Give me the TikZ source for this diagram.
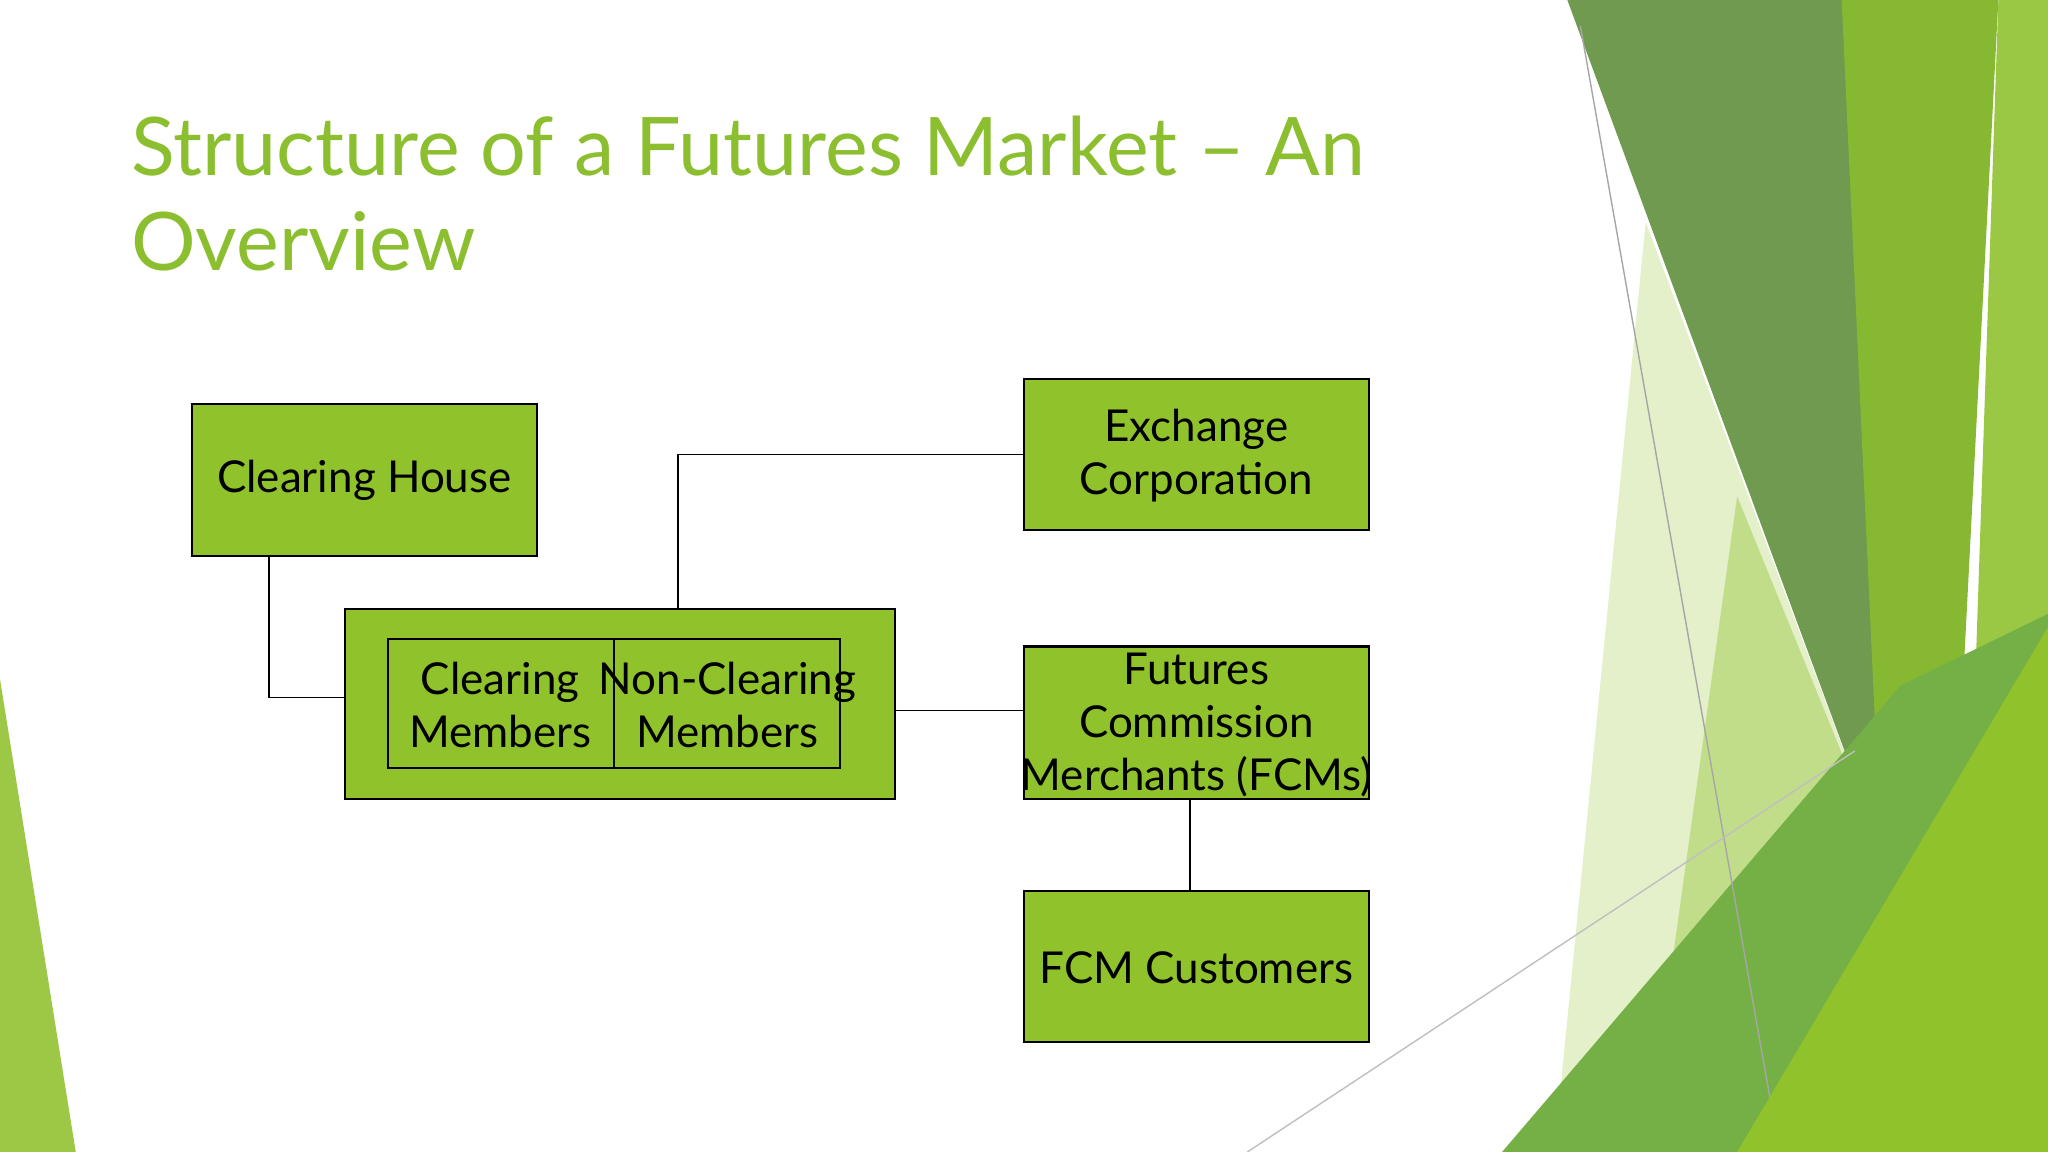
\documentclass[tikz,border=0pt]{standalone}
\usepackage{fontspec}
\setmainfont{Lato}
\definecolor{boxg}{HTML}{8FC22B}
\definecolor{titleg}{HTML}{8CBF30}
\definecolor{bgA}{HTML}{6F9A4F}
\definecolor{bgB}{HTML}{86B832}
\definecolor{bgC}{HTML}{9AC844}
\definecolor{bgD}{HTML}{74B045}
\definecolor{bgE}{HTML}{9CC845}
\begin{document}
\begin{tikzpicture}[x=0.013061cm,y=-0.013061cm,
  gbox/.style={draw=black,line width=0.6pt,fill=boxg},
  lbl/.style={align=center,font=\fontsize{12.5}{15}\selectfont,inner sep=0pt},
  conn/.style={draw=black,line width=0.5pt}]
\useasboundingbox (0,0) rectangle (1568,882);
\fill[white] (0,0) rectangle (1568,882);
% background shapes
\fill[boxg!25] (1260,170) -- (1440,650) -- (1380,882) -- (1190,882) -- cycle;
\fill[boxg!55] (1330,380) -- (1440,650) -- (1380,882) -- (1260,882) -- cycle;
\fill[bgA] (1200,0) -- (1420,0) -- (1440,650) -- cycle;
\fill[bgB] (1410,0) -- (1530,0) -- (1500,580) -- (1440,650) -- cycle;
\fill[bgC] (1530,0) -- (1568,0) -- (1568,882) -- (1500,882) -- cycle;
\fill[bgD] (1150,882) -- (1455,525) -- (1568,470) -- (1568,882) -- cycle;
\fill[boxg] (1330,882) -- (1568,480) -- (1568,882) -- cycle;
\fill[bgE] (0,520) -- (58,882) -- (0,882) -- cycle;
\draw[gray!70,line width=0.4pt] (1210,20) -- (1355,840);
\draw[gray!50,line width=0.4pt] (955,882) -- (1420,575);
% title
\node[anchor=north west,text=titleg,align=left,font=\fontsize{23}{27}\selectfont,inner sep=0pt] (title) at (100,88) {Structure of a Futures Market – An\\Overview};
% boxes
\path[gbox] (147,309) rectangle (411,426);
\node[lbl] (ch) at (279,368) {Clearing House};
\path[gbox] (264,466) rectangle (685,612);
\path[gbox] (297,489) rectangle (470,588);
\path[gbox] (470,489) rectangle (643,588);
\node[lbl] (cm) at (383,540) {Clearing\\Members};
\node[lbl] (ncm) at (557,540) {Non-Clearing\\Members};
\path[gbox] (784,290) rectangle (1048,406);
\node[lbl] (ex) at (916,349) {Exchange\\Corporation};
\path[gbox] (784,495) rectangle (1048,612);
\node[lbl] (fcm) at (916,555) {Futures\\Commission\\Merchants (FCMs)};
\path[gbox] (784,682) rectangle (1048,798);
\node[lbl] (cu) at (916,741) {FCM Customers};
% connectors
\coordinate (a1) at (206,426); \coordinate (a2) at (206,534); \coordinate (a3) at (264,534);
\draw[conn] (a1) -- (a2) -- (a3);
\coordinate (b1) at (519,466); \coordinate (b2) at (519,348); \coordinate (b3) at (784,348);
\draw[conn] (b1) -- (b2) -- (b3);
\coordinate (c1) at (685,544); \coordinate (c2) at (784,544);
\draw[conn] (c1) -- (c2);
\coordinate (d1) at (911,612); \coordinate (d2) at (911,682);
\draw[conn] (d1) -- (d2);
\end{tikzpicture}
\end{document}
